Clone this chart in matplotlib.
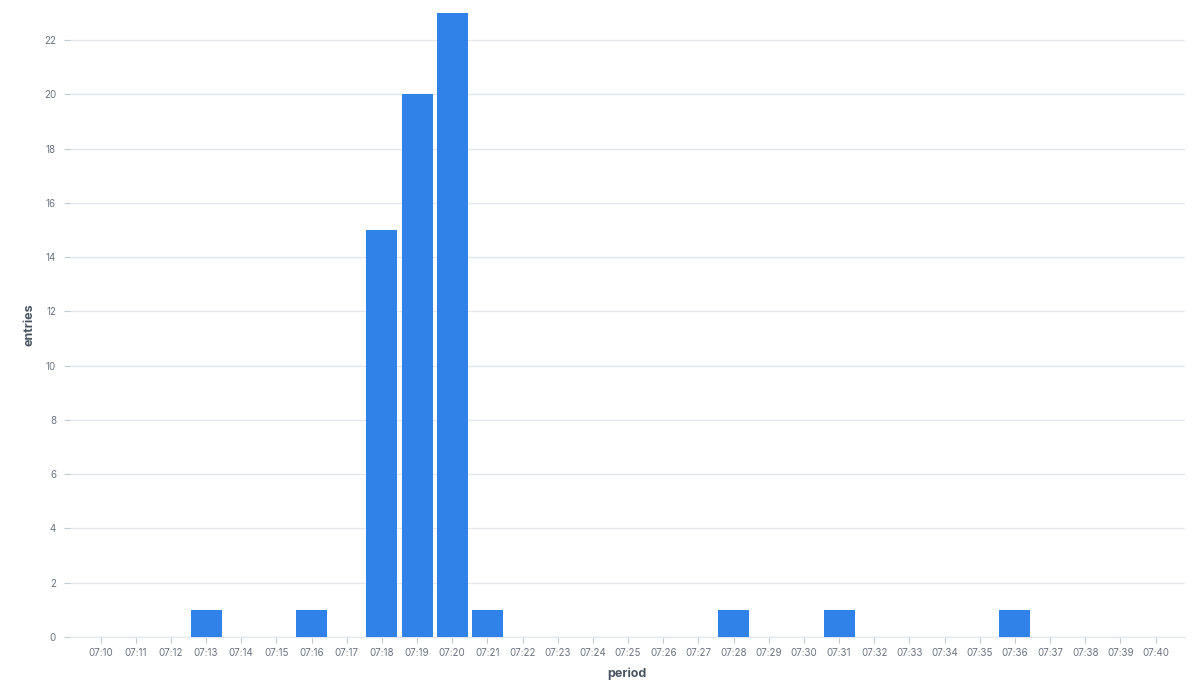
import matplotlib
matplotlib.use("Agg")
import matplotlib.pyplot as plt

# === Data ===
periods = ["07:%02d" % m for m in range(10, 41)]
entries = [0, 0, 0, 1, 0, 0, 1, 0, 15, 20, 23, 1, 0, 0, 0, 0,
           0, 0, 1, 0, 0, 1, 0, 0, 0, 0, 1, 0, 0, 0, 0]

plt.rcParams['font.family'] = ['Inter', 'DejaVu Sans']

fig = plt.figure(figsize=(12, 6.89), dpi=100)
ax = fig.add_axes([0.0583, 0.0755, 0.929, 0.9055])

x = range(len(periods))
ax.bar(x, entries, width=0.88, color="#3182e8", zorder=3)

ax.set_xlim(-0.87, len(periods) - 1 + 0.83)
ax.set_ylim(0, 23)
ax.set_yticks(range(0, 23, 2))
ax.set_xticks(list(x))
ax.set_xticklabels(periods)

ax.grid(axis="y", color="#e5e7eb", linewidth=1, zorder=0)
for s in ["top", "right", "left"]:
    ax.spines[s].set_visible(False)
ax.spines["bottom"].set_color("#e5e7eb")
ax.spines["bottom"].set_linewidth(1)

ax.tick_params(axis="both", colors="#c3cad4", labelcolor="#6b7280", labelsize=7)
ax.tick_params(axis="x", length=4, pad=4)
ax.tick_params(axis="y", length=4, pad=6)

ax.set_xlabel("period", fontsize=9, fontweight="bold", color="#4b5563", labelpad=7)
ax.set_ylabel("entries", fontsize=9, fontweight="bold", color="#4b5563", labelpad=6)

fig.savefig("out.png", dpi=100)
